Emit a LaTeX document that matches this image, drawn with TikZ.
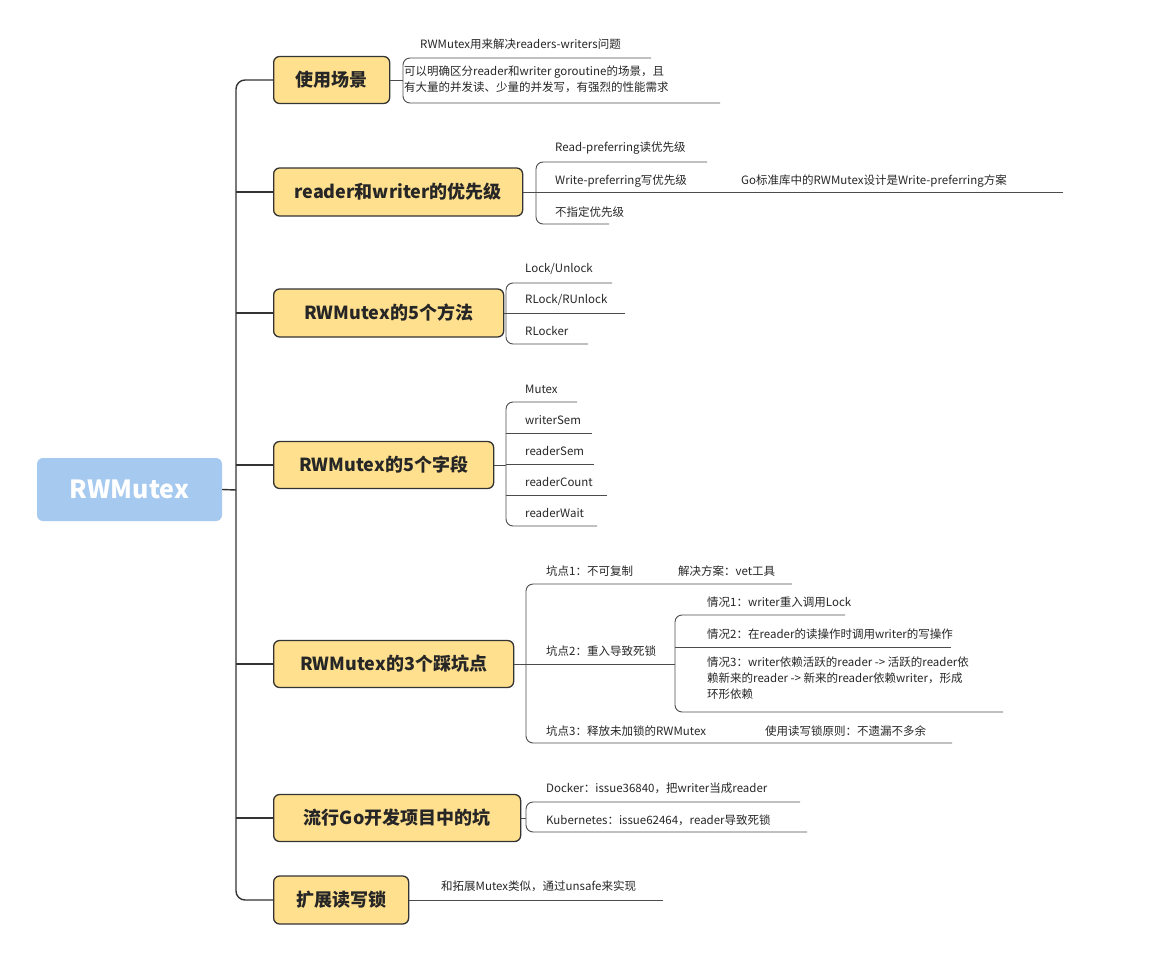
\documentclass[tikz,border=0pt]{standalone}
\usepackage{fontspec}
\setmainfont{Noto Sans CJK SC}
\begin{document}
\begin{tikzpicture}[x=1pt,y=-1pt,
  ln/.style={draw=black!70,line width=0.9pt,rounded corners=7pt},
  sp/.style={draw=black!80,line width=1.4pt,rounded corners=9pt},
  br/.style={draw=black!80,line width=1.3pt,fill=brYellow,rounded corners=6pt,font=\bfseries\fontsize{18}{20}\selectfont,text=black!85,inner sep=0pt,anchor=west},
  lf/.style={font=\fontsize{11.5}{16}\selectfont,text=black!85,anchor=west,inner sep=0pt,align=left}]
\definecolor{brYellow}{HTML}{FFE08E}
\definecolor{rootBlue}{HTML}{A6C9EF}
\useasboundingbox (0,0) rectangle (1156,963);
% root
\node[fill=rootBlue,rounded corners=6pt,minimum width=185pt,minimum height=63pt,text=white,font=\bfseries\fontsize{25}{28}\selectfont,inner sep=0pt] (root) at (129.5,489.5) {RWMutex};
\coordinate (sp) at (236,490);
\draw[sp] (root.east) -- (sp);
% branches
\node[br,minimum width=116pt,minimum height=47pt] (b1) at (273,80) {使用场景};
\node[br,minimum width=249pt,minimum height=48pt] (b2) at (273,192) {reader和writer的优先级};
\node[br,minimum width=230pt,minimum height=48pt] (b3) at (273,313) {RWMutex的5个方法};
\node[br,minimum width=220pt,minimum height=47pt] (b4) at (273,465) {RWMutex的5个字段};
\node[br,minimum width=240pt,minimum height=47pt] (b5) at (273,664) {RWMutex的3个踩坑点};
\node[br,minimum width=247pt,minimum height=47pt] (b6) at (273,818) {流行Go开发项目中的坑};
\node[br,minimum width=135pt,minimum height=48pt] (b7) at (273,900) {扩展读写锁};
% spine
\draw[sp] (b1.west) -- (236,80) -- (236,900) -- (b7.west);
\foreach \b in {b2,b3,b4,b5,b6} \draw[sp] (\b.west) -- (236,0 |- \b.west) ;
\foreach \b/\y in {b2/192,b3/313,b4/465,b5/664,b6/818} \draw[sp,rounded corners=0pt] (\b.west) -- (236,\y);
% branch 1
\node[lf] (l11) at (420,44) {RWMutex用来解决readers-writers问题};
\node[lf,anchor=north west] (l12) at (404,66) {可以明确区分reader和writer goroutine的场景，且\\有大量的并发读、少量的并发写，有强烈的性能需求};
\draw[ln] (b1.east) -- (403,80);
\draw[ln] (651,58) -- (403,58) -- (403,103) -- (720,103);
% branch 2
\node[lf] (l21) at (555,148) {Read-preferring读优先级};
\node[lf] (l22) at (555,181) {Write-preferring写优先级};
\node[lf] (l23) at (555,212) {不指定优先级};
\node[lf] (l221) at (741,181) {Go标准库中的RWMutex设计是Write-preferring方案};
\draw[ln] (707,162) -- (536,162) -- (536,224) -- (609,224);
\draw[ln,rounded corners=0pt] (b2.east) -- (1063,192);
% branch 3
\node[lf] (l31) at (525,269) {Lock/Unlock};
\node[lf] (l32) at (525,300) {RLock/RUnlock};
\node[lf] (l33) at (525,331) {RLocker};
\draw[ln] (612,283) -- (506,283) -- (506,344) -- (588,344);
\draw[ln,rounded corners=0pt] (b3.east) -- (625,313);
% branch 4
\node[lf] (l41) at (525,389) {Mutex};
\node[lf] (l42) at (525,420) {writerSem};
\node[lf] (l43) at (525,451) {readerSem};
\node[lf] (l44) at (525,482) {readerCount};
\node[lf] (l45) at (525,513) {readerWait};
\draw[ln] (577,402) -- (506,402) -- (506,526) -- (597,526);
\draw[ln,rounded corners=0pt] (b4.east) -- (506,465);
\draw[ln,rounded corners=0pt] (506,433) -- (592,433);
\draw[ln,rounded corners=0pt] (506,464) -- (594,464);
\draw[ln,rounded corners=0pt] (506,495) -- (607,495);
% branch 5
\node[lf] (l51) at (546,571) {坑点1：不可复制};
\node[lf] (l511) at (678,571) {解决方案：vet工具};
\node[lf] (l52) at (546,651) {坑点2：重入导致死锁};
\node[lf] (l521) at (707,602) {情况1：writer重入调用Lock};
\node[lf] (l522) at (707,634) {情况2：在reader的读操作时调用writer的写操作};
\node[lf,anchor=north west] (l523) at (707,657) {情况3：writer依赖活跃的reader -> 活跃的reader依\\赖新来的reader -> 新来的reader依赖writer，形成\\环形依赖};
\node[lf] (l53) at (546,731) {坑点3：释放未加锁的RWMutex};
\node[lf] (l531) at (765,731) {使用读写锁原则：不遗漏不多余};
\draw[ln] (792,584) -- (526,584) -- (526,743) -- (952,743);
\draw[ln,rounded corners=0pt] (b5.east) -- (526,664);
\draw[ln,rounded corners=0pt] (526,664) -- (675,664);
\draw[ln] (845,615) -- (675,615) -- (675,712) -- (1003,712);
\draw[ln,rounded corners=0pt] (675,647) -- (951,647);
% branch 6
\node[lf] (l61) at (546,788) {Docker：issue36840，把writer当成reader};
\node[lf] (l62) at (546,820) {Kubernetes：issue62464，reader导致死锁};
\draw[ln] (800,802) -- (526,802) -- (526,832) -- (807,832);
\draw[ln,rounded corners=0pt] (b6.east) -- (526,818);
% branch 7
\node[lf] (l71) at (441,886) {和拓展Mutex类似，通过unsafe来实现};
\draw[ln,rounded corners=0pt] (b7.east) -- (663,900);
\end{tikzpicture}
\end{document}
